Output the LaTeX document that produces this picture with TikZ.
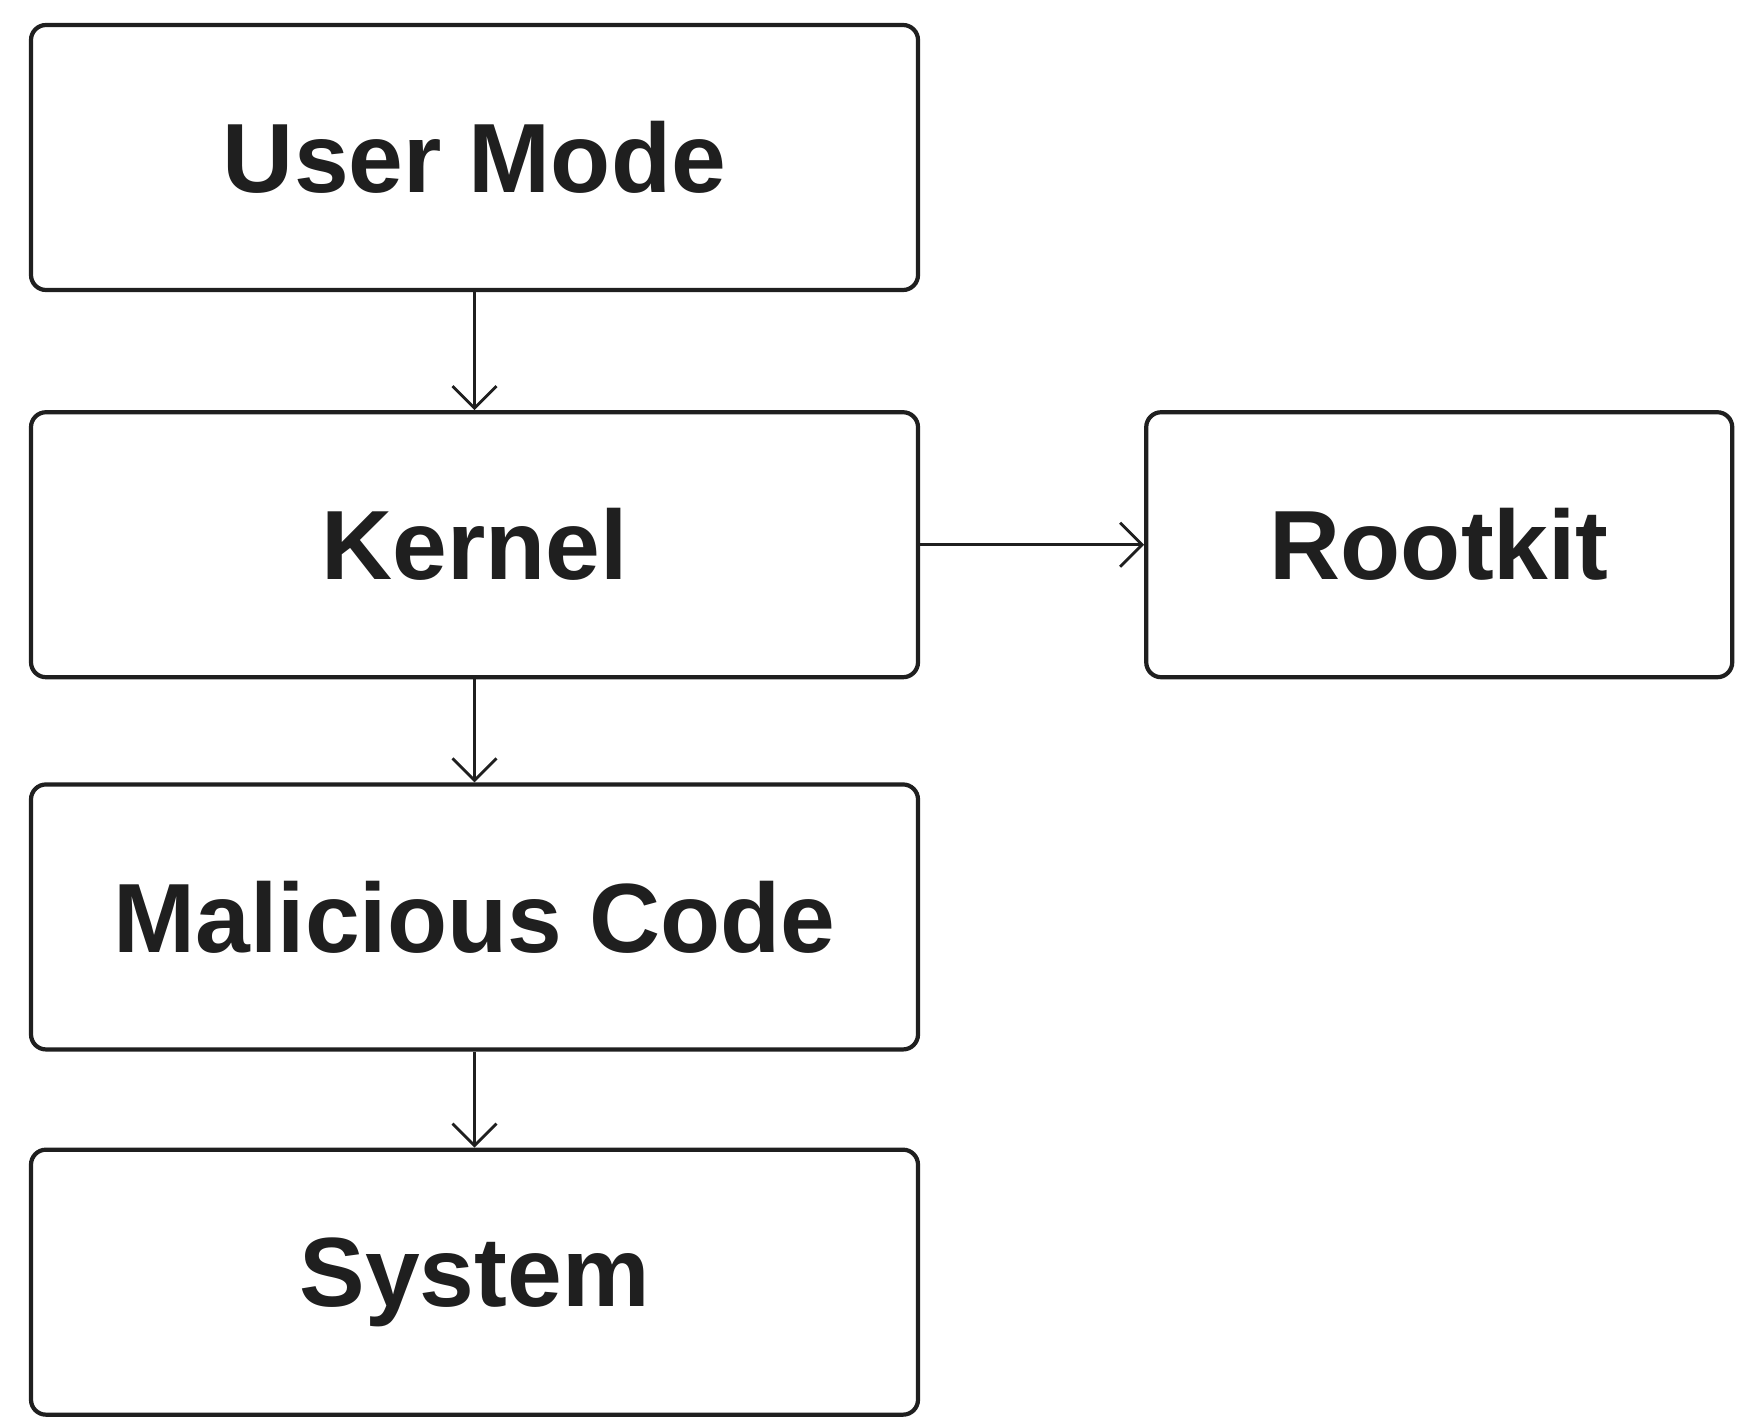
\documentclass[tikz,border=0pt]{standalone}
\usepackage{fontspec}
\setmainfont{Liberation Sans}
\usetikzlibrary{arrows.meta, positioning}

\begin{document}
\begin{tikzpicture}[
  block/.style = {draw=black!88, line width=1.2pt, rounded corners=0.15cm, minimum height=2.65cm, minimum width=8.87cm, align=center, font=\fontsize{28}{32}\selectfont\bfseries, text=black!88},
  arrow/.style = {draw=black!88, line width=0.8pt, -{Straight Barb[length=2.2mm, width=4.4mm]}},
  node distance=1.18cm and 2.24cm
]
  \useasboundingbox (0,0) rectangle (17.42,14.19);

  % User mode
  \node[block] (usermode) at (4.745,12.615) {User Mode};

  % Kernel
  \node[block, below=of usermode] (kernel) {Kernel};

  % Rootkit
  \node[block, minimum width=5.86cm, right=of kernel] (rootkit) {Rootkit};

  % Malicious code
  \node[block, below=1.03cm of kernel] (malcode) {Malicious Code};

  % System
  \node[block, below=0.96cm of malcode] (system) {System};

  % arrows
  \draw[arrow] (usermode) -- (kernel);
  \draw[arrow] (kernel) -- (rootkit);
  \draw[arrow] (kernel) -- (malcode);
  \draw[arrow] (malcode) -- (system);

\end{tikzpicture}
\end{document}
